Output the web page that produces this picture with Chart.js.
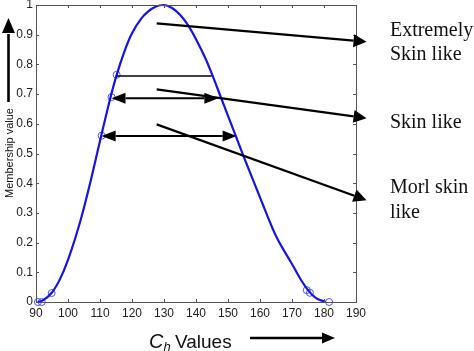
<!DOCTYPE html>
<html><head><meta charset="utf-8">
<script src="https://cdn.jsdelivr.net/npm/chart.js@4.4.0/dist/chart.umd.min.js"></script>
<style>html,body{margin:0;padding:0;background:#fff;}canvas{display:block;}</style>
</head><body>
<canvas id="c" width="474" height="351"></canvas>
<script>
// ---- data ----
const curveX = [90.5, 92, 95, 97.5, 100, 104, 107, 110, 113, 115, 117.5, 120, 123, 125, 127.5, 130, 132.5, 135, 137.5, 140, 143, 145, 147.5, 150, 155, 160, 165, 170, 172.5, 175, 177.5, 180.5];
const curveY = [0, 0.0045, 0.032, 0.077, 0.142, 0.278, 0.404, 0.542, 0.677, 0.757, 0.84, 0.905, 0.956, 0.978, 0.995, 1.0, 0.99, 0.967, 0.932, 0.885, 0.819, 0.767, 0.697, 0.627, 0.487, 0.352, 0.222, 0.128, 0.08, 0.04, 0.013, 0];
const markerX = [90.6, 91.8, 94.9, 110.5, 113.6, 115.2, 174.6, 175.6, 181.6];
const markerY = [0, 0, 0.03, 0.56, 0.69, 0.765, 0.04, 0.031, 0];

// range bars: y level, left end, right end, with arrowheads?
const rangeY = [0.761, 0.686, 0.559];
const rangeX1 = [115.2, 113.6, 110.5];
const rangeX2 = [144.9, 147.0, 152.7];
const rangeHeads = [false, true, true];

// pointer arrows (from -> to) in data units
const ptrX1 = [127.7, 127.7, 127.7];
const ptrY1 = [0.938, 0.716, 0.598];
const ptrX2 = [193.3, 193.3, 193.3];
const ptrY2 = [0.876, 0.619, 0.343];

// category text lines (baseline positions in data units)
const labelText = ["Extremely", "Skin like", "Skin like", "Morl skin", "like"];
const labelX = 200.6;
const labelY = [0.896, 0.814, 0.585, 0.366, 0.282];

const yTitle = "Membership value";
const xTitleMain = "C";
const xTitleSub = "h";
const xTitleRest = " Values";

// ---- helpers ----
function arrowHead(ctx, fx, fy, tx, ty, len, hw) {
  const ang = Math.atan2(ty - fy, tx - fx);
  const bx = tx - len * Math.cos(ang), by = ty - len * Math.sin(ang);
  const nx = -Math.sin(ang) * hw, ny = Math.cos(ang) * hw;
  ctx.beginPath();
  ctx.moveTo(tx, ty);
  ctx.lineTo(bx + nx, by + ny);
  ctx.lineTo(bx - nx, by - ny);
  ctx.closePath();
  ctx.fill();
  return [bx, by];
}
function line(ctx, x1, y1, x2, y2, w) {
  ctx.lineWidth = w;
  ctx.beginPath(); ctx.moveTo(x1, y1); ctx.lineTo(x2, y2); ctx.stroke();
}

const overlay = {
  id: 'overlay',
  afterDraw(chart) {
    const ctx = chart.ctx, a = chart.chartArea, xs = chart.scales.x, ys = chart.scales.y;
    ctx.save();
    // box
    ctx.strokeStyle = '#555';
    ctx.lineWidth = 1;
    ctx.strokeRect(Math.round(a.left) + 0.5, Math.round(a.top) + 0.5, Math.round(a.right - a.left) , Math.round(a.bottom - a.top));
    // inward ticks
    const tl = 3;
    xs.ticks.forEach(t => {
      if (t.value <= xs.min || t.value >= xs.max) return;
      const p = Math.round(xs.getPixelForValue(t.value)) + 0.5;
      line(ctx, p, a.bottom, p, a.bottom - tl, 1);
      line(ctx, p, a.top, p, a.top + tl, 1);
    });
    ys.ticks.forEach(t => {
      if (t.value <= ys.min || t.value >= ys.max) return;
      const p = Math.round(ys.getPixelForValue(t.value)) + 0.5;
      line(ctx, a.left, p, a.left + tl, p, 1);
      line(ctx, a.right, p, a.right - tl, p, 1);
    });

    ctx.strokeStyle = '#000';
    ctx.fillStyle = '#000';
    // range bars
    rangeY.forEach((yv, i) => {
      const py = ys.getPixelForValue(yv);
      let x1 = xs.getPixelForValue(rangeX1[i]), x2 = xs.getPixelForValue(rangeX2[i]);
      if (rangeHeads[i]) {
        const b1 = arrowHead(ctx, x2, py, x1, py, 14, 5.5);
        const b2 = arrowHead(ctx, x1, py, x2, py, 14, 5.5);
        line(ctx, b1[0], py, b2[0], py, 2.2);
      } else {
        line(ctx, x1, py, x2, py, 1.6);
      }
    });
    // pointer arrows
    ptrX1.forEach((xv, i) => {
      const fx = xs.getPixelForValue(xv), fy = ys.getPixelForValue(ptrY1[i]);
      const tx = xs.getPixelForValue(ptrX2[i]), ty = ys.getPixelForValue(ptrY2[i]);
      const b = arrowHead(ctx, fx, fy, tx, ty, 13, 6.5);
      line(ctx, fx, fy, b[0], b[1], 2.2);
    });
    // category text
    ctx.font = '20px "Liberation Serif", "Times New Roman", serif';
    ctx.textAlign = 'left';
    ctx.textBaseline = 'alphabetic';
    ctx.fillStyle = '#111';
    labelText.forEach((s, i) => {
      ctx.fillText(s, xs.getPixelForValue(labelX), ys.getPixelForValue(labelY[i]));
    });

    // y-axis title and arrow
    ctx.save();
    ctx.translate(10, 153);
    ctx.rotate(-Math.PI / 2);
    ctx.font = '11px "Liberation Sans", Arial, sans-serif';
    ctx.textAlign = 'center';
    ctx.textBaseline = 'middle';
    ctx.fillStyle = '#111';
    ctx.fillText(yTitle, 0, 0);
    ctx.restore();
    ctx.fillStyle = '#000';
    const yb = arrowHead(ctx, 8.5, 102, 8.5, 18, 15, 6.5);
    line(ctx, 8.5, 102, 8.5, yb[1] + 1, 2.6);

    // x-axis title and arrow
    ctx.fillStyle = '#111';
    ctx.textAlign = 'left';
    ctx.textBaseline = 'alphabetic';
    ctx.font = 'italic 20px "Liberation Sans", Arial, sans-serif';
    ctx.fillText(xTitleMain, 149, 348);
    const wc = ctx.measureText(xTitleMain).width;
    ctx.font = 'italic 13px "Liberation Sans", Arial, sans-serif';
    ctx.fillText(xTitleSub, 149 + wc, 351);
    const wh = ctx.measureText(xTitleSub).width;
    ctx.font = '19px "Liberation Sans", Arial, sans-serif';
    ctx.fillText(xTitleRest, 149 + wc + wh - 1, 348);
    ctx.fillStyle = '#000';
    const xb = arrowHead(ctx, 250, 338, 335, 338, 13, 5.5);
    line(ctx, 250, 338, xb[0] + 1, 338, 2.6);
    ctx.restore();
  }
};

new Chart(document.getElementById('c'), {
  type: 'scatter',
  data: {
    datasets: [
      {
        type: 'line',
        data: curveX.map((x, i) => ({ x: x, y: curveY[i] })),
        borderColor: '#1414e6',
        borderWidth: 2.2,
        pointRadius: 0,
        fill: false,
        cubicInterpolationMode: 'monotone',
        clip: false
      },
      {
        data: markerX.map((x, i) => ({ x: x, y: markerY[i] })),
        showLine: false,
        pointRadius: 3.5,
        pointStyle: 'circle',
        borderColor: '#4a55ff',
        backgroundColor: 'rgba(0,0,0,0)',
        borderWidth: 1,
        clip: false
      }
    ]
  },
  options: {
    responsive: false,
    animation: false,
    layout: { padding: { left: 0, top: 5, right: 118, bottom: 0 } },
    plugins: { legend: { display: false }, tooltip: { enabled: false } },
    scales: {
      x: {
        type: 'linear', min: 90, max: 190,
        grid: { display: false, drawTicks: false },
        border: { display: false },
        ticks: {
          stepSize: 10, autoSkip: false, maxRotation: 0, padding: 4,
          color: '#222',
          font: { family: '"Liberation Sans Narrow", "Liberation Sans", Arial', size: 12 }
        },
        afterFit(s) { s.height = 49; s.paddingLeft = 0; s.paddingRight = 0; }
      },
      y: {
        type: 'linear', min: 0, max: 1,
        grid: { display: false, drawTicks: false },
        border: { display: false },
        ticks: {
          stepSize: 0.1, autoSkip: false, padding: 3,
          color: '#222',
          font: { family: '"Liberation Sans Narrow", "Liberation Sans", Arial', size: 12 },
          callback: v => String(Number(v.toFixed(1)))
        },
        afterFit(s) { s.width = 36; s.paddingTop = 0; s.paddingBottom = 0; }
      }
    }
  },
  plugins: [overlay]
});
</script>
</body></html>
